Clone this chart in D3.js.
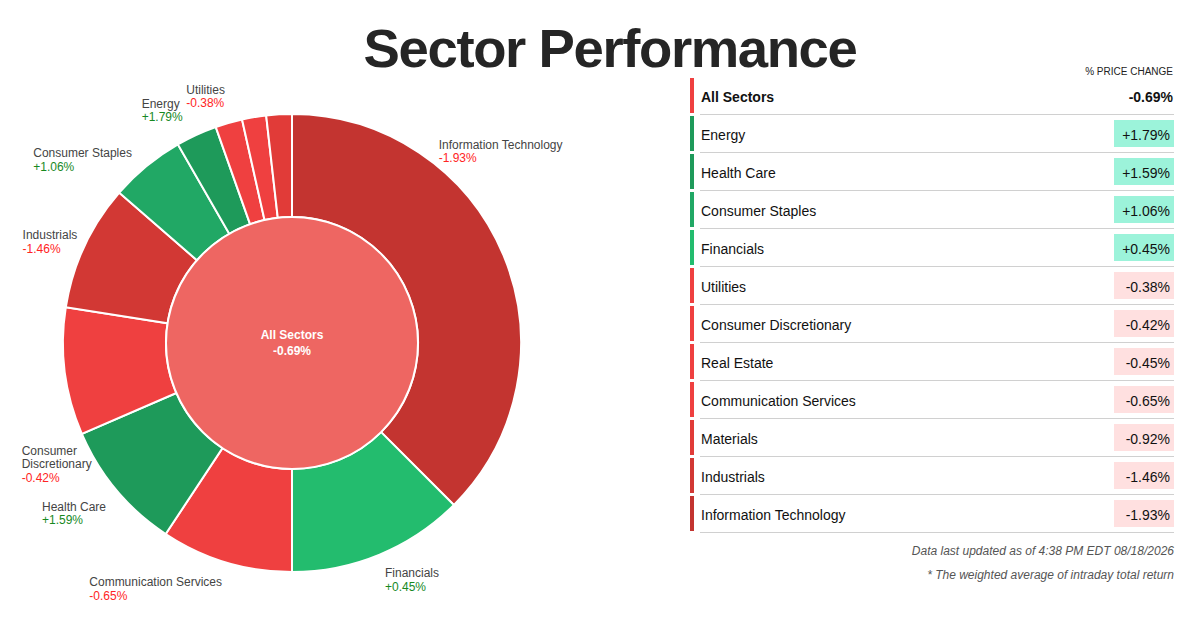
<!DOCTYPE html>
<html>
<head>
<meta charset="utf-8">
<script src="https://cdn.jsdelivr.net/npm/d3@7"></script>
<style>
  body { margin: 0; background: #fff; }
  svg text { font-family: "Liberation Sans", Arial, sans-serif; }
</style>
</head>
<body>
<div id="chart"></div>
<script>
// Donut order (clockwise from 12 o'clock), weights are % of index
const sectors = ["Information Technology", "Financials", "Communication Services", "Health Care",
  "Consumer Discretionary", "Industrials", "Consumer Staples", "Energy", "Utilities", "Real Estate", "Materials"];
const weights = [37.5, 12.5, 9.3, 9.2, 9.0, 8.9, 5.3, 2.9, 1.9, 1.7, 1.8];
const changes = [-1.93, 0.45, -0.65, 1.59, -0.42, -1.46, 1.06, 1.79, -0.38, -0.45, -0.92];
const allSectorsLabel = "All Sectors";
const allSectorsChange = -0.69;
const updatedText = "Data last updated as of 4:38 PM EDT 08/18/2026";
const footnoteText = "* The weighted average of intraday total return";

(function() {
  const width = 1201, height = 639;
  const cx = 292, cy = 343;
  const outerR = 229, innerR = 126, labelRadius = 243, minLabelShare = 1.85;

  // labels that sit away from their slice middle
  const labelNudge = {
    "Information Technology": {angle: 39, radius: 233},
    "Health Care": {angle: 229, radius: 246},
    "Consumer Discretionary": {angle: 241, radius: 229},
    "Industrials": {angle: 294, radius: 235},
    "Consumer Staples": {angle: 317.3, radius: 236},
    "Energy": {angle: 333.7, radius: 246}
  };

  const data = sectors.map(function(name, i) {
    return {name: name, weight: weights[i], change: changes[i]};
  });

  function sliceColor(v) {
    if (v >= 1.5) return "#1e9a5a";
    if (v >= 1.0) return "#21a865";
    if (v >= 0) return "#23bc6e";
    if (v > -0.75) return "#ef4040";
    if (v > -1.25) return "#e13b38";
    if (v > -1.75) return "#d23834";
    return "#c33430";
  }
  function fmt(v) { return (v > 0 ? "+" : "") + v.toFixed(2) + "%"; }

  const svg = d3.select("#chart").append("svg")
    .attr("width", width)
    .attr("height", height);

  svg.append("text")
    .attr("x", 610)
    .attr("y", 67)
    .attr("text-anchor", "middle")
    .attr("font-size", 54.5)
    .attr("font-weight", "bold")
    .attr("letter-spacing", -1.4)
    .attr("fill", "#252525")
    .text("Sector Performance");

  // ---- donut ----
  const pie = d3.pie().sort(null).value(function(d) { return d.weight; });
  const arcs = pie(data);
  const arc = d3.arc().innerRadius(innerR).outerRadius(outerR);

  const donut = svg.append("g").attr("transform", `translate(${cx},${cy})`);

  donut.selectAll("path")
    .data(arcs)
    .join("path")
      .attr("d", arc)
      .attr("fill", function(d) { return sliceColor(d.data.change); })
      .attr("stroke", "#fff")
      .attr("stroke-width", 2);

  donut.append("circle")
    .attr("r", innerR)
    .attr("fill", "#ee6662")
    .attr("stroke", "#fff")
    .attr("stroke-width", 2);

  const center = donut.append("text")
    .attr("text-anchor", "middle")
    .attr("fill", "#fff")
    .attr("font-size", 12)
    .attr("font-family", "Roboto, 'Liberation Sans', sans-serif")
    .attr("font-weight", 700);
  center.append("tspan").attr("x", 0).attr("y", -4).text(allSectorsLabel);
  center.append("tspan").attr("x", 0).attr("y", 12).text(fmt(allSectorsChange));

  const labelLayer = donut.append("g");
  const lineH = 13.5;

  arcs.filter(function(d) { return d.data.weight >= minLabelShare; }).forEach(function(d) {
    const nudge = labelNudge[d.data.name] || {};
    const mid = nudge.angle != null ? nudge.angle * Math.PI / 180 : (d.startAngle + d.endAngle) / 2;
    const r = nudge.radius || labelRadius;
    const ax = r * Math.sin(mid), ay = -r * Math.cos(mid);
    const g = labelLayer.append("g");
    const t = g.append("text").attr("font-size", 12);

    function draw(lines) {
      t.selectAll("tspan").remove();
      lines.forEach(function(l, i) {
        t.append("tspan").attr("x", 0).attr("y", 11 + i * lineH).attr("fill", "#444").text(l);
      });
      t.append("tspan").attr("x", 0).attr("y", 11 + lines.length * lineH)
        .attr("fill", d.data.change >= 0 ? "#17891f" : "#ff2424")
        .text(fmt(d.data.change));
      return t.node().getBBox().width;
    }

    let lines = [d.data.name];
    let w = draw(lines);
    if (Math.sin(mid) < 0 && cx + ax - w < 15) {
      lines = d.data.name.split(" ");
      w = draw(lines);
    }
    const h = (lines.length + 1) * lineH;
    const x = Math.sin(mid) < 0 ? ax - w : ax;
    const y = ay - h * (1 + Math.cos(mid)) / 2;
    g.attr("transform", `translate(${x},${y})`);
  });

  // ---- table ----
  const rows = [{name: allSectorsLabel, change: allSectorsChange, total: true}]
    .concat(data.slice().sort(function(a, b) { return b.change - a.change; }));

  const left = 690, right = 1174;
  const y = d3.scaleBand()
    .domain(rows.map(function(d) { return d.name; }))
    .range([76, 76 + rows.length * 38]);

  const table = svg.append("g");

  table.append("text")
    .attr("x", right - 1)
    .attr("y", 75)
    .attr("text-anchor", "end")
    .attr("font-size", 10)
    .attr("fill", "#222")
    .text("% PRICE CHANGE");

  const row = table.selectAll("g.row")
    .data(rows)
    .join("g")
      .attr("class", "row")
      .attr("transform", function(d) { return `translate(0,${y(d.name)})`; });

  row.append("rect")
    .attr("x", left)
    .attr("y", 2)
    .attr("width", 4)
    .attr("height", y.bandwidth() - 3)
    .attr("fill", function(d) { return d.total ? "#ef4040" : sliceColor(d.change); });

  row.append("line")
    .attr("x1", 700)
    .attr("x2", right)
    .attr("y1", y.bandwidth() + 0.5)
    .attr("y2", y.bandwidth() + 0.5)
    .attr("stroke", "#d0d0d0")
    .attr("stroke-width", 1);

  row.filter(function(d) { return !d.total; }).append("rect")
    .attr("x", right - 60)
    .attr("y", 6)
    .attr("width", 60)
    .attr("height", 27)
    .attr("fill", function(d) { return d.change >= 0 ? "#9cf3da" : "#ffe0e0"; });

  row.append("text")
    .attr("x", 701)
    .attr("y", 26)
    .attr("font-size", 14)
    .attr("font-weight", function(d) { return d.total ? "bold" : "normal"; })
    .attr("fill", "#111")
    .text(function(d) { return d.name; });

  row.append("text")
    .attr("x", function(d) { return d.total ? right - 1 : right - 4; })
    .attr("y", 26)
    .attr("text-anchor", "end")
    .attr("font-size", 14)
    .attr("font-weight", function(d) { return d.total ? "bold" : "normal"; })
    .attr("fill", "#111")
    .text(function(d) { return fmt(d.change); });

  table.append("text")
    .attr("x", right)
    .attr("y", 555)
    .attr("text-anchor", "end")
    .attr("font-size", 12)
    .attr("font-style", "italic")
    .attr("fill", "#555")
    .text(updatedText);

  table.append("text")
    .attr("x", right)
    .attr("y", 579)
    .attr("text-anchor", "end")
    .attr("font-size", 12)
    .attr("font-style", "italic")
    .attr("fill", "#555")
    .text(footnoteText);
})();
</script>
</body>
</html>
